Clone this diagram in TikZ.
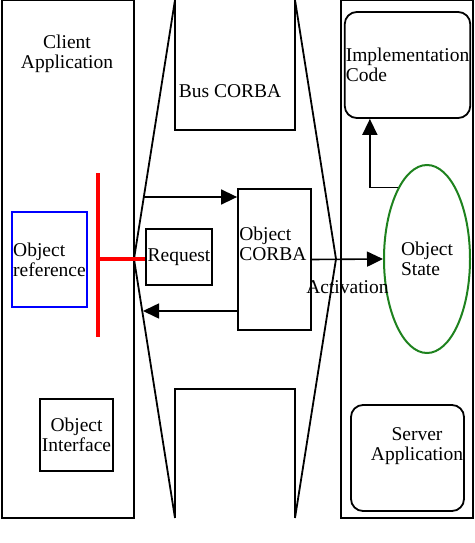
\documentclass[tikz,border=0pt]{standalone}
\usepackage{fontspec}
\setmainfont{Liberation Serif}
\usetikzlibrary{positioning}
\usetikzlibrary{shapes.geometric}
\usetikzlibrary{arrows.meta}

\definecolor{stategreen}{RGB}{30,130,30}

\tikzset{
	box/.style = {draw = black, line width = 1.8pt, inner sep = 1pt},
	rbox/.style = {box, rounded corners = 12pt},
	arr/.style = {black, line width = 1.6pt, -{Triangle[length = 16pt, width = 15pt]}},
	edge/.style = {black, line width = 1.8pt}
}

\begin{document}
\begin{tikzpicture}[x = 1pt, y = -1pt, font = \fontsize{19.5}{20}\selectfont]
	\useasboundingbox (0, 0) rectangle (474, 543);
	% client and server sides
	\draw[edge, line width = 2.2pt] (2, 0) rectangle (134, 518);
	\draw[edge, line width = 2.2pt] (341, 0) rectangle (473, 518);
	% the bus
	\coordinate (busl) at (134, 259);
	\coordinate (busr) at (336, 259);
	\draw[edge] (175, 0) -- (175, 130) -- (295, 130) -- (295, 0);
	\draw[edge] (175, 518) -- (175, 389) -- (295, 389) -- (295, 518);
	\draw[edge] (175, 0) -- (busl) -- (175, 518);
	\draw[edge] (295, 0) -- (busr) -- (295, 518);

	\node (client) at (67, 54) [align = center] {Client\\Application};
	\node (bus) at (230, 91) {Bus CORBA};

	\node[box, draw = blue, minimum width = 73, minimum height = 95, align = left] (ref) at (49.5, 259.5) {Object\\reference};
	\node[box, minimum width = 66, minimum height = 56] (req) at (179, 257) {Request};
	\node[box, minimum width = 73, minimum height = 72, align = center] (iface) at (76.5, 435) {Object\\Interface};

	% red tee
	\coordinate (tee) at (98, 259);
	\draw[red, line width = 3.5pt] (98, 173) -- (98, 337);
	\draw[red, line width = 3.5pt] (tee) -- (tee -| req.west);

	\node[box, minimum width = 73, minimum height = 141] (corba) at (274.5, 259.5) {};
	\node[anchor = west, align = left, inner sep = 2pt] (corbatext) at ([yshift = 16]corba.west) {Object\\CORBA};

	\coordinate (reqin) at (144, 197);
	\coordinate (repout) at (143, 311);
	\draw[arr] (reqin) -- (reqin -| corba.west);
	\draw[arr] (repout -| corba.west) -- (repout);

	\node[ellipse, draw = stategreen, line width = 2pt, minimum width = 86, minimum height = 188, inner sep = 0pt, align = left] (state) at (427, 259) {Object\\State};
	\draw[arr] (corba.east) -- (state.west) node[midway, below = 17pt] (act) {Activation};

	\node[rbox, minimum width = 125, minimum height = 106, align = left] (impl) at (407.5, 65) {Implementation\\Code};
	\draw[arr] (state.112) -| ([xshift = 26]impl.south west);

	\node[rbox, minimum width = 113, minimum height = 106] (server) at (407.5, 458) {};
	\node[align = center] (servertext) at (417, 446) {Server\\Application};
\end{tikzpicture}
\end{document}
